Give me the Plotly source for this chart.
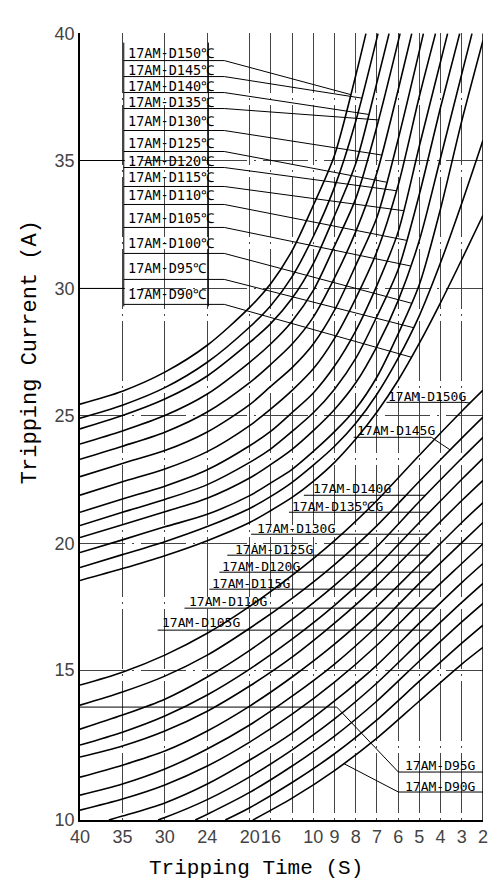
import numpy as np
import plotly.graph_objects as go

# axes as printed on the sheet (time runs 40 s -> 2 s on a non-linear grid)
TIME_TICKS = [40, 35, 30, 24, 20, 16, 12, 10, 9, 8, 7, 6, 5, 4, 3, 2]
TIME_TEXT = ["40", "35", "30", "24", "20", "16", "", "10", "9", "8", "7", "6", "5", "4", "3", "2"]
AMP_TICKS = [10, 15, 20, 25, 30, 35, 40]

# upper family (deg C types): current (A) at TIME_TICKS, last value = where it leaves the top
C_NAMES = ["D150", "D145", "D140", "D135", "D130", "D125", "D120",
           "D115", "D110", "D105", "D100", "D95", "D90"]
C_EXIT_T = [7.52, 6.95, 6.43, 5.91, 5.36, 4.81, 4.24, 3.67, 3.10, 2.52, None, None, None]
D150C = [25.44, 25.95, 26.70, 27.76, 29.25, 30.19, 31.48, 33.25, 35.21, 38.35, 40.0]
D145C = [24.89, 25.40, 26.09, 27.09, 28.48, 29.33, 30.46, 32.03, 33.96, 36.55, 40.0]
D140C = [24.47, 24.99, 25.64, 26.55, 27.87, 28.62, 29.61, 30.97, 32.84, 34.88, 38.08, 40.0]
D135C = [23.88, 24.39, 24.99, 25.84, 27.09, 27.82, 28.71, 29.92, 31.66, 33.51, 36.35, 40.0]
D130C = [23.28, 23.79, 24.34, 25.13, 26.29, 27.01, 27.81, 28.87, 30.41, 32.22, 34.52, 37.78, 40.0]
D125C = [22.60, 23.12, 23.62, 24.35, 25.42, 26.15, 26.88, 27.81, 29.14, 30.90, 32.78, 35.84, 40.0]
D120C = [21.88, 22.40, 22.90, 23.58, 24.60, 25.25, 25.98, 26.83, 28.03, 29.61, 31.44, 34.03, 37.53, 40.0]
D115C = [21.21, 21.73, 22.23, 22.87, 23.81, 24.38, 25.11, 25.88, 26.94, 28.33, 30.12, 32.21, 35.57, 40.0]
D110C = [20.69, 21.21, 21.71, 22.29, 23.16, 23.69, 24.37, 25.10, 26.03, 27.24, 28.90, 30.74, 33.68, 37.10, 40.0]
D105C = [20.22, 20.72, 21.23, 21.76, 22.55, 23.08, 23.67, 24.40, 25.23, 26.28, 27.72, 29.52, 31.88, 35.11, 40.0]
D100C = [19.63, 20.13, 20.64, 21.13, 21.86, 22.36, 22.89, 23.59, 24.36, 25.26, 26.51, 28.21, 30.15, 33.12, 36.56, 39.73]
D95C = [19.04, 19.55, 20.06, 20.65, 21.36, 21.83, 22.38, 23.05, 23.79, 24.69, 25.83, 27.25, 28.93, 31.01, 33.33, 35.80]
D90C = [18.53, 19.00, 19.51, 20.10, 20.81, 21.28, 21.79, 22.42, 23.16, 24.07, 25.13, 26.38, 27.84, 29.44, 31.13, 32.86]
C_AMPS = [D150C, D145C, D140C, D135C, D130C, D125C, D120C,
          D115C, D110C, D105C, D100C, D95C, D90C]

# lower family (G types): current (A) at G_TIMES; curves that start on the 10 A line get a start time
G_NAMES = ["D150G", "D145G", "D140G", "D135G", "D130G", "D125G", "D120G",
           "D115G", "D110G", "D105G", "D100G", "D95G", "D90G"]
G_TIMES = [40, 35, 30, 24, 20, 12, 9, 7, 5, 3, 2]
G_START_T = [40, 40, 40, 40, 40, 40, 40, 40, 36.6, 30.8, 25.7, 22.3, 19.4]
D150G = [14.50, 14.93, 15.59, 16.45, 17.51, 18.73, 20.10, 21.67, 23.44, 25.16, 25.99]
D145G = [13.83, 14.27, 14.80, 15.59, 16.65, 17.83, 19.16, 20.69, 22.42, 24.11, 24.93]
D140G = [13.03, 13.50, 14.03, 14.77, 15.78, 17.00, 18.34, 19.87, 21.63, 23.32, 24.14]
D135G = [12.50, 12.93, 13.47, 14.17, 15.04, 16.22, 17.55, 19.08, 20.81, 22.50, 23.32]
D130G = [12.10, 12.47, 12.97, 13.63, 14.47, 15.51, 16.85, 18.34, 20.02, 21.67, 22.46]
D125G = [11.43, 11.83, 12.30, 12.97, 13.80, 14.77, 16.02, 17.51, 19.16, 20.81, 21.59]
D120G = [10.83, 11.20, 11.70, 12.37, 13.17, 14.13, 15.24, 16.73, 18.42, 20.02, 20.81]
D115G = [10.33, 10.70, 11.17, 11.80, 12.60, 13.53, 14.60, 15.98, 17.63, 19.20, 19.98]
D110G = [10.00, 10.13, 10.57, 11.20, 12.00, 12.90, 13.97, 15.20, 16.85, 18.45, 19.20]
D105G = [10.00, 10.08, 10.68, 11.44, 12.34, 13.37, 14.57, 16.10, 17.67, 18.42]
D100G = [10.00, 10.19, 10.92, 11.80, 12.80, 13.97, 15.36, 16.90, 17.63]
D95G = [10.00, 10.41, 11.25, 12.21, 13.34, 14.63, 16.06, 16.77]
D90G = [10.00, 10.73, 11.65, 12.73, 13.97, 15.24, 15.90]
G_AMPS = [D150G, D145G, D140G, D135G, D130G, D125G, D120G,
          D115G, D110G, D105G, D100G, D95G, D90G]

# ---- drawing scale: grid steps of the sheet, and the taller 10-15 A band ----
TIME_POS = [0, 2, 4, 6, 8, 9, 10, 11, 12, 13, 14, 15, 16, 17, 18, 19]
AMP_POS = [0, 150, 277, 405, 532, 660, 787]


def to_x(t):
    return np.interp(-np.asarray(t, dtype=float), [-v for v in TIME_TICKS], TIME_POS)


def to_y(a):
    return np.interp(np.asarray(a, dtype=float), AMP_TICKS, AMP_POS)


# page pixel -> axis helpers for label placement (plot area 80..485 x 33..820 on the page)
def sx(p):
    return (p - 80) / 405 * 19


def sy(p):
    return 820 - p


fig = go.Figure()
shapes = []
annos = []
LINE = dict(color="black", width=1)
LBL_FONT = dict(family="DejaVu Sans Mono, Liberation Mono, monospace", size=13, color="black")
CURVE = dict(color="black", width=1.6, shape="spline", smoothing=0.8)


def seg(x0, y0, x1, y1):
    shapes.append(dict(type="line", xref="x", yref="y", x0=x0, y0=y0, x1=x1, y1=y1, line=LINE))


c_curves = []
for name, amps, exit_t in zip(C_NAMES, C_AMPS, C_EXIT_T):
    if exit_t is None:
        times = TIME_TICKS[:len(amps)]
    else:
        times = TIME_TICKS[:len(amps) - 1] + [exit_t]
    cx, cy = to_x(times), to_y(amps)
    c_curves.append((cx, cy))
    fig.add_trace(go.Scatter(x=cx, y=cy, mode="lines", name=name, hoverinfo="skip", line=CURVE))

g_curves = []
for name, amps, t0 in zip(G_NAMES, G_AMPS, G_START_T):
    times = G_TIMES if t0 >= 40 else [t0] + [t for t in G_TIMES if t < t0]
    cx, cy = to_x(times), to_y(amps)
    g_curves.append((cx, cy))
    fig.add_trace(go.Scatter(x=cx, y=cy, mode="lines", name=name, hoverinfo="skip", line=CURVE))

# white label column hides the grid behind the upper labels
shapes.append(dict(type="rect", xref="x", yref="y", x0=sx(124), x1=sx(209), y0=sy(306), y1=sy(42),
                   fillcolor="white", line=dict(width=0), layer="below"))

# upper labels in the boxed column, leaders down to the curves
C_TEXT_Y = [52, 69, 85, 101, 120, 142, 160, 177, 195, 218, 243, 268, 294]
C_RULE_Y = [60, 76, 92, 108, 130, 151, 167, 186, 204, 227, 253, 279, 304]
C_TIP_X = [352, 363, 370, 380, 383, 388, 398, 405, 408, 412, 413, 415, 413]
for i, name in enumerate(C_NAMES):
    cx, cy = c_curves[i]
    tx = sx(C_TIP_X[i])
    ty = np.interp(tx, cx, cy)
    seg(sx(124), sy(C_RULE_Y[i]), sx(225), sy(C_RULE_Y[i]))
    seg(sx(225), sy(C_RULE_Y[i]), tx, ty)
    annos.append(dict(x=sx(126), y=sy(C_TEXT_Y[i]), text="17AM-" + name + "\u2103",
                      xanchor="left", yanchor="middle", showarrow=False, font=dict(LBL_FONT, size=13.5)))
seg(sx(124), sy(42), sx(124), sy(306))
seg(sx(209), sy(42), sx(209), sy(306))
seg(sx(80), sy(160), sx(124), sy(160))
seg(sx(80), sy(288), sx(124), sy(288))

# lower labels: text, rule under it running to its curve
G_TEXT = {"D150G": (388, 396), "D145G": (356, 430), "D140G": (312, 488), "D135G": (291, 506),
          "D130G": (256, 528), "D125G": (234, 549), "D120G": (221, 566), "D115G": (211, 583),
          "D110G": (188, 601), "D105G": (160, 622), "D95G": (405, 765), "D90G": (405, 786)}
G_RULE = {"D150G": (388, 402), "D145G": (355, 437), "D140G": (305, 495), "D135G": (290, 512),
          "D130G": (252, 534), "D125G": (228, 555), "D120G": (220, 572), "D115G": (210, 589),
          "D110G": (185, 608), "D105G": (158, 630)}
for i, name in enumerate(G_NAMES):
    if name not in G_TEXT:
        continue
    cx, cy = g_curves[i]
    txt = "17AM-" + (name[:-1] + "\u2103G" if name == "D135G" else name)
    lx, ly = G_TEXT[name]
    annos.append(dict(x=sx(lx), y=sy(ly), text=txt, xanchor="left", yanchor="middle",
                      showarrow=False, font=LBL_FONT))
    if name in ("D150G", "D145G"):
        x0, ry = G_RULE[name]
        x1 = 466 if name == "D150G" else 433
        tip = sx(472 if name == "D150G" else 452)
        seg(sx(x0), sy(ry), sx(x1), sy(ry))
        seg(sx(x1), sy(ry), tip, np.interp(tip, cx, cy))
    elif name in G_RULE:
        x0, ry = G_RULE[name]
        seg(sx(x0), sy(ry), np.interp(sy(ry), cy, cx), sy(ry))

# D95G / D90G leaders at bottom right
seg(sx(80), sy(707), sx(338), sy(707))
seg(sx(338), sy(707), sx(400), sy(772))
seg(sx(400), sy(772), sx(485), sy(772))
cx, cy = g_curves[G_NAMES.index("D90G")]
seg(sx(345), np.interp(sx(345), cx, cy), sx(400), sy(792))
seg(sx(400), sy(792), sx(485), sy(792))

# right frame edge
shapes.append(dict(type="line", xref="x", yref="y", x0=19, x1=19, y0=0, y1=787,
                   line=dict(color="black", width=1.5)))

annos.append(dict(x=0.437, y=-0.061, xref="paper", yref="paper", text="Tripping Time (S)",
                  showarrow=False, xanchor="center", yanchor="middle",
                  font=dict(family="Liberation Mono, monospace", size=21, color="black")))
annos.append(dict(x=-0.123, y=0.595, xref="paper", yref="paper", text="Tripping Current (A)",
                  showarrow=False, textangle=-90, xanchor="center", yanchor="middle",
                  font=dict(family="Liberation Mono, monospace", size=22, color="black")))

# the page adds an 8 px body margin, so the figure is 8 px smaller and shifted
fig.update_layout(
    width=492, height=883,
    margin=dict(l=72, r=15, t=25, b=71),
    paper_bgcolor="white", plot_bgcolor="white",
    showlegend=False,
    shapes=shapes, annotations=annos,
    xaxis=dict(range=[0, 19], tickvals=TIME_POS, ticktext=TIME_TEXT, tickangle=0,
               showgrid=True, gridcolor="#444", gridwidth=1, griddash="60px,5px,2px,5px",
               showline=True, linecolor="black", linewidth=1.5, zeroline=False, ticks="",
               tickfont=dict(family="Liberation Sans, Arial", size=18, color="#444")),
    yaxis=dict(range=[0, 787.6], tickvals=AMP_POS, ticktext=[str(a) for a in AMP_TICKS],
               showgrid=True, gridcolor="#444", gridwidth=1, griddash="45px,7px,2px,7px",
               showline=True, linecolor="black", linewidth=1.5, zeroline=False, ticks="",
               tickfont=dict(family="Liberation Sans, Arial", size=18, color="#444")),
)

fig.write_html("out.html")
